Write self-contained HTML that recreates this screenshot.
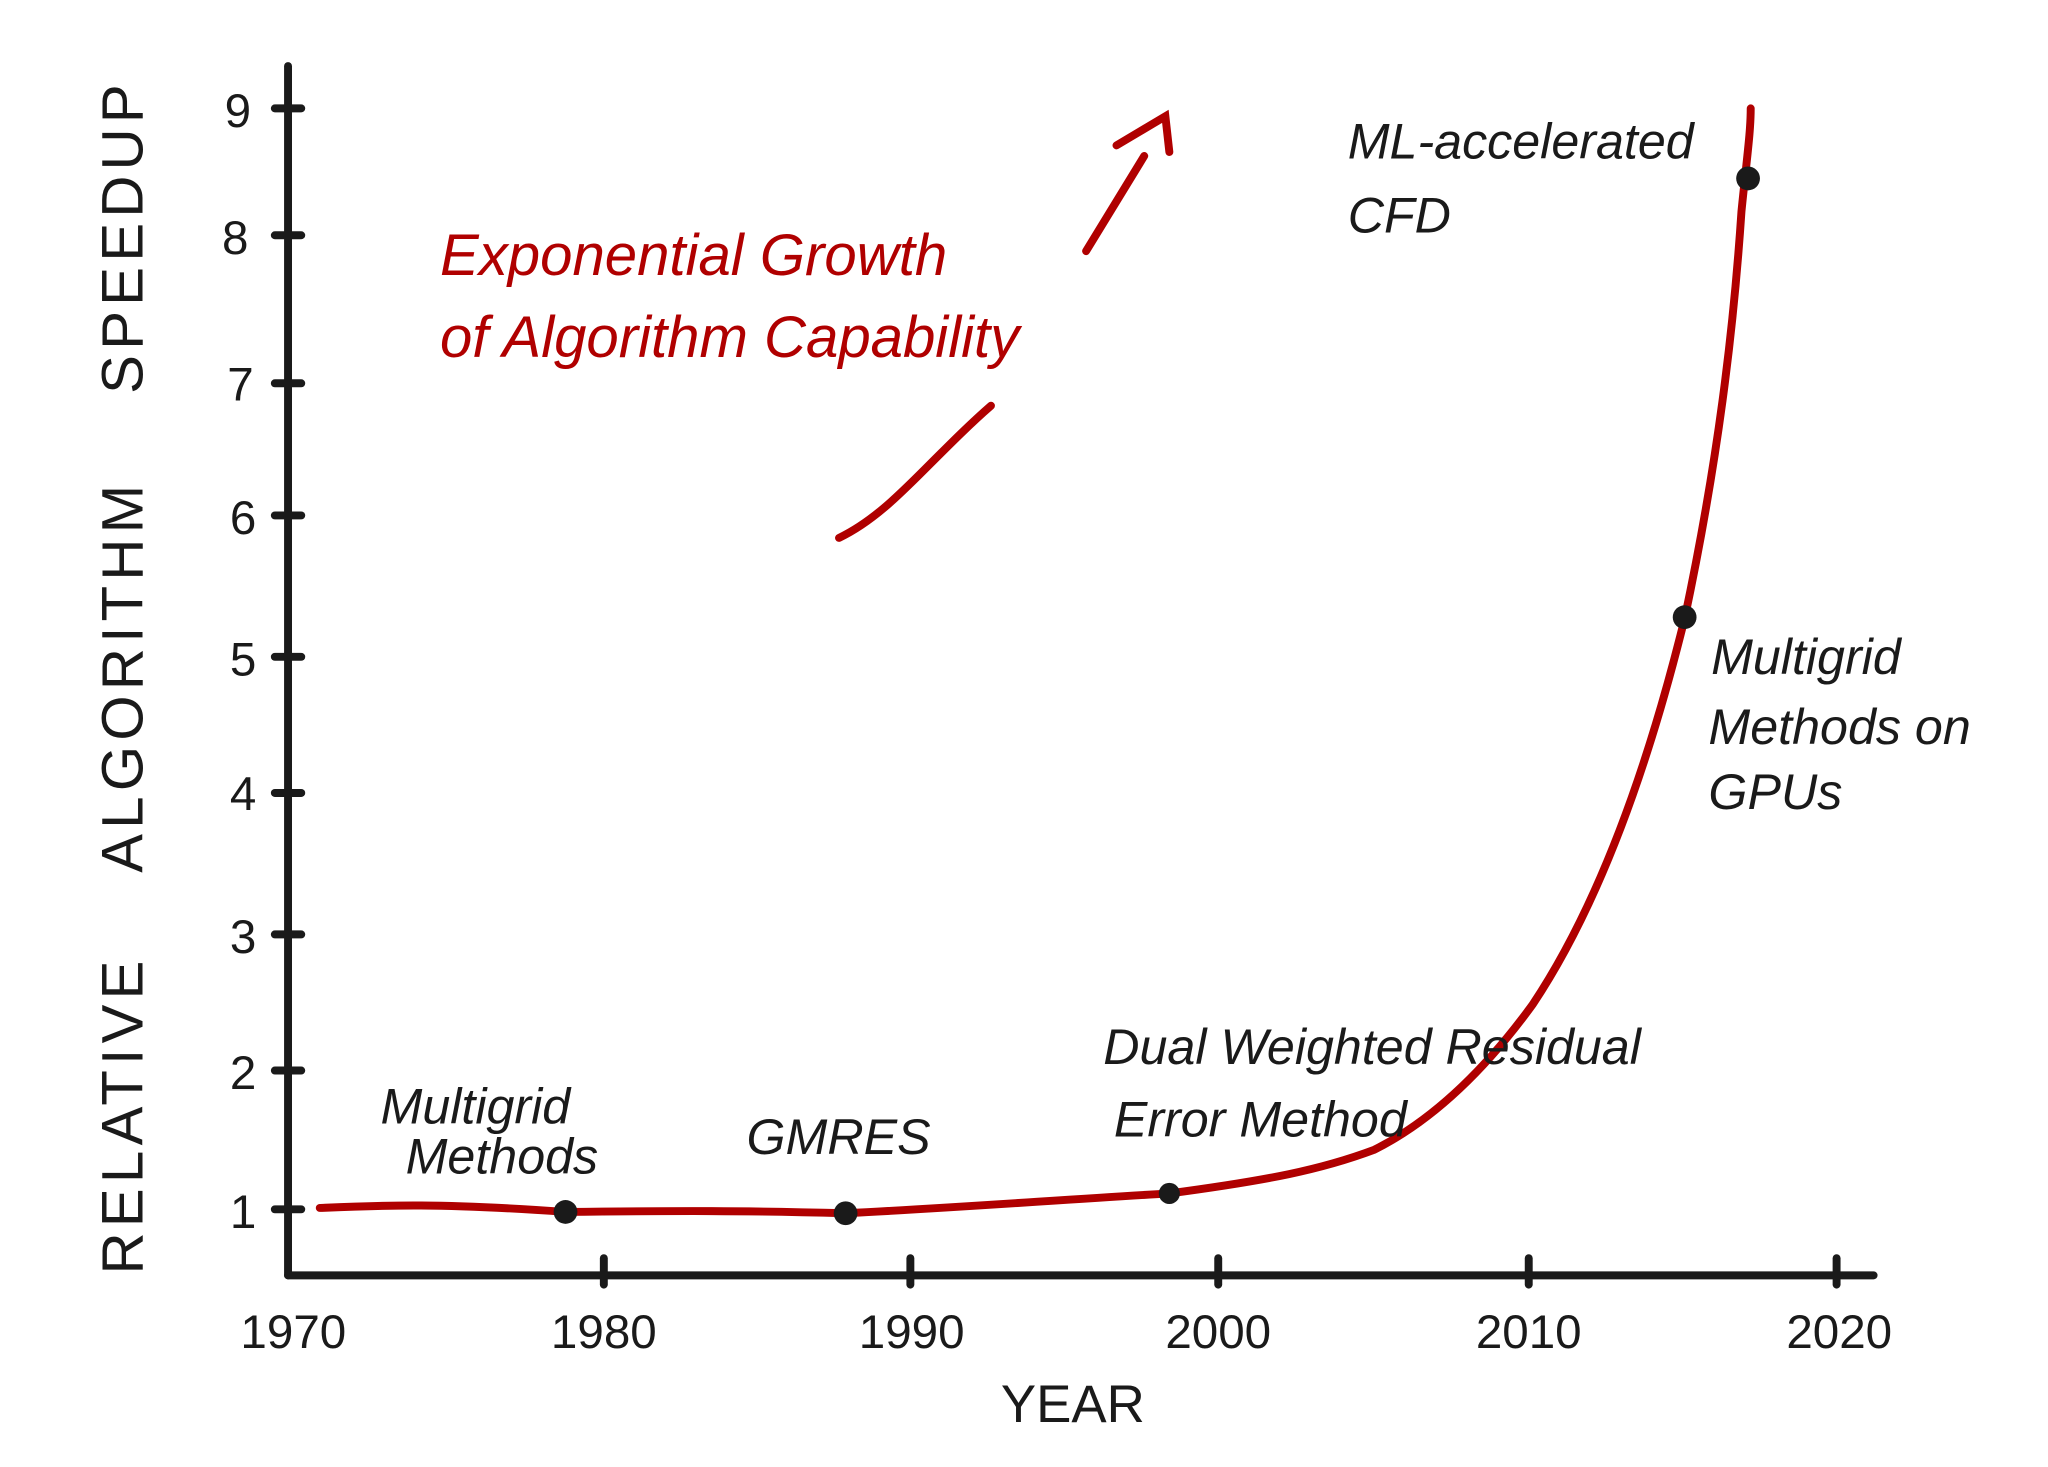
<!DOCTYPE html>
<html><head><meta charset="utf-8"><style>
html,body{margin:0;padding:0;background:#fff;}
svg{display:block;}
text{font-family:"Liberation Sans",sans-serif;}
</style></head><body>
<svg width="2048" height="1467" viewBox="0 0 1550 1110" preserveAspectRatio="none" xmlns="http://www.w3.org/2000/svg">
<g stroke="#1a1a1a" stroke-width="6" stroke-linecap="round" fill="none">
<line x1="218" y1="50" x2="218" y2="965"/>
<line x1="218" y1="965" x2="1418" y2="965"/>
<line x1="208" y1="82" x2="228" y2="82"/>
<line x1="208" y1="178" x2="228" y2="178"/>
<line x1="208" y1="290" x2="228" y2="290"/>
<line x1="208" y1="390" x2="228" y2="390"/>
<line x1="208" y1="497" x2="228" y2="497"/>
<line x1="208" y1="600" x2="228" y2="600"/>
<line x1="208" y1="707" x2="228" y2="707"/>
<line x1="208" y1="810" x2="228" y2="810"/>
<line x1="208" y1="915" x2="228" y2="915"/>
<line x1="457" y1="952" x2="457" y2="972"/>
<line x1="689" y1="952" x2="689" y2="972"/>
<line x1="922" y1="952" x2="922" y2="972"/>
<line x1="1157" y1="952" x2="1157" y2="972"/>
<line x1="1390" y1="952" x2="1390" y2="972"/>
</g>
<g font-size="36" fill="#1a1a1a" text-anchor="middle">
<text x="180" y="96">9</text><text x="178" y="192">8</text><text x="182" y="303">7</text>
<text x="184" y="404">6</text><text x="184" y="511">5</text><text x="184" y="613">4</text>
<text x="184" y="721">3</text><text x="184" y="824">2</text><text x="184" y="929">1</text>
<text x="222" y="1020">1970</text><text x="457" y="1020">1980</text><text x="690" y="1020">1990</text>
<text x="922" y="1020">2000</text><text x="1157" y="1020">2010</text><text x="1392" y="1020">2020</text>
<text x="812" y="1076" font-size="40">YEAR</text>
<text transform="translate(108,512) rotate(-90)" font-size="44" letter-spacing="4" xml:space="preserve">RELATIVE    ALGORITHM    SPEEDUP</text>
</g>
<path d="M242,914 C290,912 330,910 428,917 C520,916 560,916 640,918 C720,914 800,908 885,903 C960,893 1000,885 1040,870 C1080,850 1120,815 1160,760 C1200,700 1240,610 1275,468 C1300,350 1312,250 1318,160 C1322,120 1325,100 1325,82" stroke="#b00000" stroke-width="6" fill="none" stroke-linecap="round"/>
<g fill="#1a1a1a">
<circle cx="428" cy="917" r="9"/><circle cx="640" cy="918" r="9"/><circle cx="885" cy="903" r="8"/>
<circle cx="1275" cy="467" r="9"/><circle cx="1323" cy="135" r="9"/>
</g>
<g stroke="#b00000" stroke-width="6" fill="none" stroke-linecap="round">
<path d="M635,407 C660,395 680,375 700,355 C720,335 735,320 750,307"/>
<path d="M822,190 L866,118"/>
<path d="M845,110 L882,88 L885,115"/>
</g>
<g fill="#b00000" font-size="44" font-style="italic">
<text x="333" y="208">Exponential  Growth</text>
<text x="333" y="270">of  Algorithm  Capability</text>
</g>
<g fill="#1a1a1a" font-size="38" font-style="italic">
<text x="1020" y="120">ML-accelerated</text>
<text x="1020" y="176">CFD</text>
<text x="1295" y="510">Multigrid</text>
<text x="1293" y="563">Methods on</text>
<text x="1293" y="612">GPUs</text>
<text x="835" y="805">Dual Weighted Residual</text>
<text x="843" y="860">Error Method</text>
<text x="565" y="873">GMRES</text>
<text x="288" y="850">Multigrid</text>
<text x="307" y="888">Methods</text>
</g>
</svg>
</body></html>
